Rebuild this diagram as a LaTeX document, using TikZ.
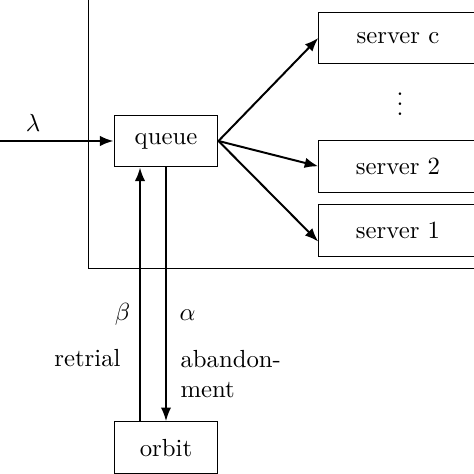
\documentclass[tikz,border=0pt]{standalone}
\usetikzlibrary{arrows.meta}

\begin{document}
\begin{tikzpicture}[
    x=0.404pt, y=0.404pt,
    box_small/.style={rectangle, draw=black, thin, minimum width=42pt, minimum height=21pt},
    box_server/.style={box_small, minimum width=64pt},
    arrow_flow/.style={-{Latex[length=5.5pt, width=4.2pt]}, thick},
    rate_label/.style={inner sep=0pt},
    ]

\clip (0,0) rectangle (474,474);

% system boundary
\draw[thin] (88.3,205) rectangle (700,700);

\node[box_small] (queue) at (166,333) {queue};
\node[box_server] (servc) at (398,436) {server c};
\node[box_server] (servtwo) at (398,307.7) {server 2};
\node[box_server] (servone) at (398,243.5) {server 1};
\node (dots) at (400,377) {$\vdots$};
\node[box_small] (orbit) at (166,26.3) {orbit};
\coordinate (source) at (-5,333);

\node[rate_label, anchor=base] (lambda) at (33,342) {$\lambda$};
\node[rate_label, anchor=base] (beta) at (122.5,153.5) {$\beta$};
\node[rate_label, anchor=base] (alpha) at (187.5,153.5) {$\alpha$};
\node[rate_label, anchor=base east] (retrial) at (121,107) {retrial};
\node[rate_label, anchor=north west, align=left] (abandon) at (180,124) {abandon-\\ment};

\draw[arrow_flow] (source) -- (queue);
\draw[arrow_flow] (queue.east) -- (servc.west);
\draw[arrow_flow] (queue.east) -- (servtwo.west);
\draw[arrow_flow] (queue.east) -- ([yshift=-4.5pt]servone.west);
\draw[arrow_flow] ([xshift=-10.5pt]orbit.north) -- ([xshift=-10.5pt]queue.south);
\draw[arrow_flow] (queue.south) -- (orbit.north);

\end{tikzpicture}
\end{document}
